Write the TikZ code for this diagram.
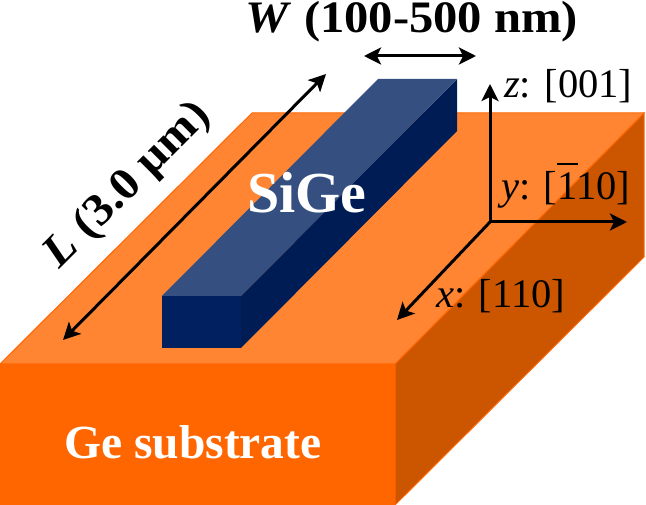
\documentclass[tikz,border=0pt]{standalone}
\usepackage{fontspec}
\setmainfont{Liberation Serif}
\newfontfamily\widefont[FakeStretch=1.08]{Liberation Serif}
\usetikzlibrary{arrows.meta}
\definecolor{topor}{HTML}{FF8533}
\definecolor{frontor}{HTML}{FF6600}
\definecolor{sideor}{HTML}{CC5500}
\definecolor{bartop}{HTML}{344F80}
\definecolor{barfront}{HTML}{002060}
\definecolor{barside}{HTML}{001C55}
\newcommand{\barone}{\rlap{\raisebox{.86em}{\rule{.5em}{.055em}}}1}
\tikzset{
  x=1pt,y=1pt,
  face/.style={line width=1pt,line join=miter},
  dim/.style={line width=3pt,{Stealth[length=17pt,width=17pt,inset=4pt]}-{Stealth[length=17pt,width=17pt,inset=4pt]}},
  axis/.style={line width=3pt,-{Stealth[length=17pt,width=17pt,inset=4pt]}},
  boldlabel/.style={inner sep=0pt,font=\widefont\fontsize{45}{45}\selectfont\bfseries,text=black},
  whitelabel/.style={inner sep=0pt,font=\fontsize{#1}{#1}\selectfont\bfseries,text=white},
  axlabel/.style={inner sep=0pt,font=\fontsize{40.5}{40.5}\selectfont,text=black}
}
\begin{document}
\begin{tikzpicture}
\useasboundingbox (0,0) rectangle (646,-505);
% substrate
\fill[frontor] (0,-364) rectangle (395,-505);
\fill[sideor,draw=frontor,face] (395,-364) -- (644,-113) -- (644,-257) -- (395,-505) -- cycle;
\fill[topor,draw=frontor,face] (0,-364) -- (252,-113) -- (644,-113) -- (395,-364) -- cycle;
% bar
\fill[barside] (241,-296) -- (457,-79) -- (457,-131) -- (241,-348) -- cycle;
\fill[bartop] (162,-296) -- (378,-79) -- (457,-79) -- (241,-296) -- cycle;
\fill[barfront] (162,-296) rectangle (241,-348);
% coordinates
\coordinate (wa) at (364,-56);
\coordinate (wb) at (476,-56);
\coordinate (la) at (63,-340);
\coordinate (lb) at (326,-74);
\coordinate (o) at (490,-222);
\coordinate (zt) at (490,-84);
\coordinate (yt) at (627,-222);
\coordinate (xt) at (397,-320);
\draw[dim] (wa) -- (wb);
\draw[dim] (la) -- (lb);
\draw[axis] (o) -- (zt);
\draw[axis] (o) -- (yt);
\draw[axis] (o) -- (xt);
% labels
\node[boldlabel,anchor=base] (wlabel) at (412,-33) {\textit{W} (100-500 nm)};
\node[boldlabel,anchor=center,rotate=45] (llabel) at (128,-186) {\textit{L} (3.0 µm)};
\node[whitelabel=58,anchor=base] (sige) at (307,-213) {SiGe};
\node[whitelabel=47.5,anchor=base] (ge) at (193,-458) {Ge substrate};
\node[axlabel,anchor=base west] (zl) at (504,-98) {\textit{z}: [001]};
\node[axlabel,anchor=base west] (yl) at (501,-200) {\textit{y}: [\barone 10]};
\node[axlabel,anchor=base west] (xl) at (436,-308) {\textit{x}: [110]};
\end{tikzpicture}
\end{document}
